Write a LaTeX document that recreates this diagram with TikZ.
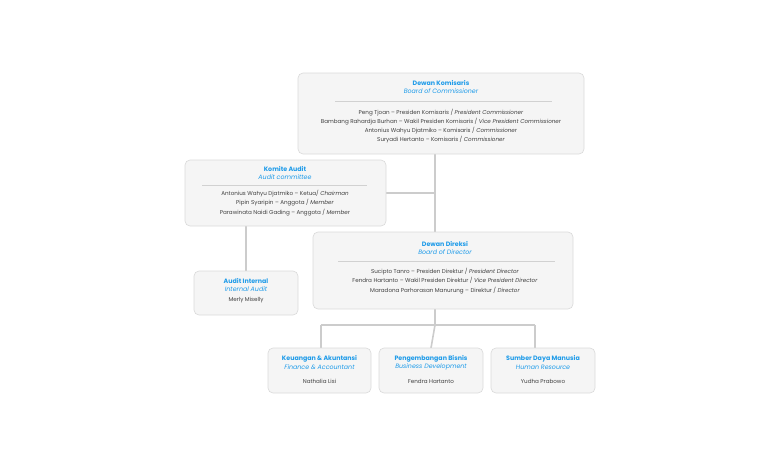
\documentclass[tikz,border=0pt]{standalone}
\usepackage{fontspec}
\setmainfont{Poppins}
\begin{document}
\begin{tikzpicture}[x=1pt,y=-1pt,
  box/.style={draw=black!15,fill=black!4,rounded corners=5pt,line width=0.6pt},
  conn/.style={draw=black!20,line width=1.6pt},
  ttl/.style={font=\fontsize{6.3}{7.5}\selectfont\bfseries,text=blue1,inner sep=0},
  sub/.style={font=\fontsize{6.3}{7.5}\selectfont\itshape,text=blue1,inner sep=0},
  txt/.style={font=\fontsize{5.6}{9.2}\selectfont,text=black!75,align=center,inner sep=0},
  dvd/.style={draw=black!18,line width=0.8pt}]
\definecolor{blue1}{HTML}{1E9BE9}
\useasboundingbox (0,0) rectangle (768,461);
% connectors
\coordinate (j1) at (435,193);
\coordinate (j2) at (435,325);
\coordinate (jl) at (321,325);
\coordinate (jr) at (535,325);
\draw[conn] (435,154) -- (435,232);
\draw[conn] (386,193) -- (j1);
\draw[conn] (246,226) -- (246,271);
\draw[conn] (435,309) -- (j2);
\draw[conn] (jl) -- (jr);
\draw[conn] (jl) -- (321,348);
\draw[conn] (j2) -- (431,348);
\draw[conn] (jr) -- (535,348);
% Komisaris
\path[box] (298,73) rectangle (584,154);
\node[ttl] (k1) at (441,83) {Dewan Komisaris};
\node[sub] (k2) at (441,91) {Board of Commissioner};
\draw[dvd] (335,101) -- (552,101);
\node[txt] (k3) at (441,126) {Peng Tjoan – Presiden Komisaris / \textit{President Commissioner}\\Bambang Rahardja Burhan – Wakil Presiden Komisaris / \textit{Vice President Commissioner}\\Antonius Wahyu Djatmiko – Komisaris / \textit{Commissioner}\\Suryadi Hertanto – Komisaris / \textit{Commissioner}};
% Komite Audit
\path[box] (185,160) rectangle (386,226);
\node[ttl] (a1) at (285,169) {Komite Audit};
\node[sub] (a2) at (285,177) {Audit committee};
\draw[dvd] (202,185) -- (367,185);
\node[txt] (a3) at (285,203) {Antonius Wahyu Djatmiko – Ketua/ \textit{Chairman}\\Pipin Syaripin – Anggota / \textit{Member}\\Parawinata Naidi Gading – Anggota / \textit{Member}};
% Audit Internal
\path[box] (194,271) rectangle (298,315);
\node[ttl] (i1) at (246,281) {Audit Internal};
\node[sub] (i2) at (246,289) {Internal Audit};
\node[txt] (i3) at (246,300) {Merly Miselly};
% Direksi
\path[box] (313,232) rectangle (573,309);
\node[ttl] (d1) at (445,244) {Dewan Direksi};
\node[sub] (d2) at (445,252) {Board of Director};
\draw[dvd] (338,261) -- (555,261);
\node[txt] (d3) at (445,281) {Sucipto Tanro – Presiden Direktur / \textit{President Director}\\Fendra Hartanto – Wakil Presiden Direktur / \textit{Vice President Director}\\Maradona Parhorasan Manurung – Direktur / \textit{Director}};
% bottom
\path[box] (268,348) rectangle (371,393);
\node[ttl] (b1) at (319.5,359) {Keuangan \& Akuntansi};
\node[sub] (b2) at (319.5,367) {Finance \& Accountant};
\node[txt] (b3) at (319.5,381) {Nathalia Lisi};
\path[box] (379,348) rectangle (483,393);
\node[ttl] (c1) at (431,359) {Pengembangan Bisnis};
\node[sub] (c2) at (431,367) {Business Development};
\node[txt] (c3) at (431,381) {Fendra Hartanto};
\path[box] (491,348) rectangle (595,393);
\node[ttl] (e1) at (543,359) {Sumber Daya Manusia};
\node[sub] (e2) at (543,367) {Human Resource};
\node[txt] (e3) at (543,381) {Yudha Prabowo};
\end{tikzpicture}
\end{document}
